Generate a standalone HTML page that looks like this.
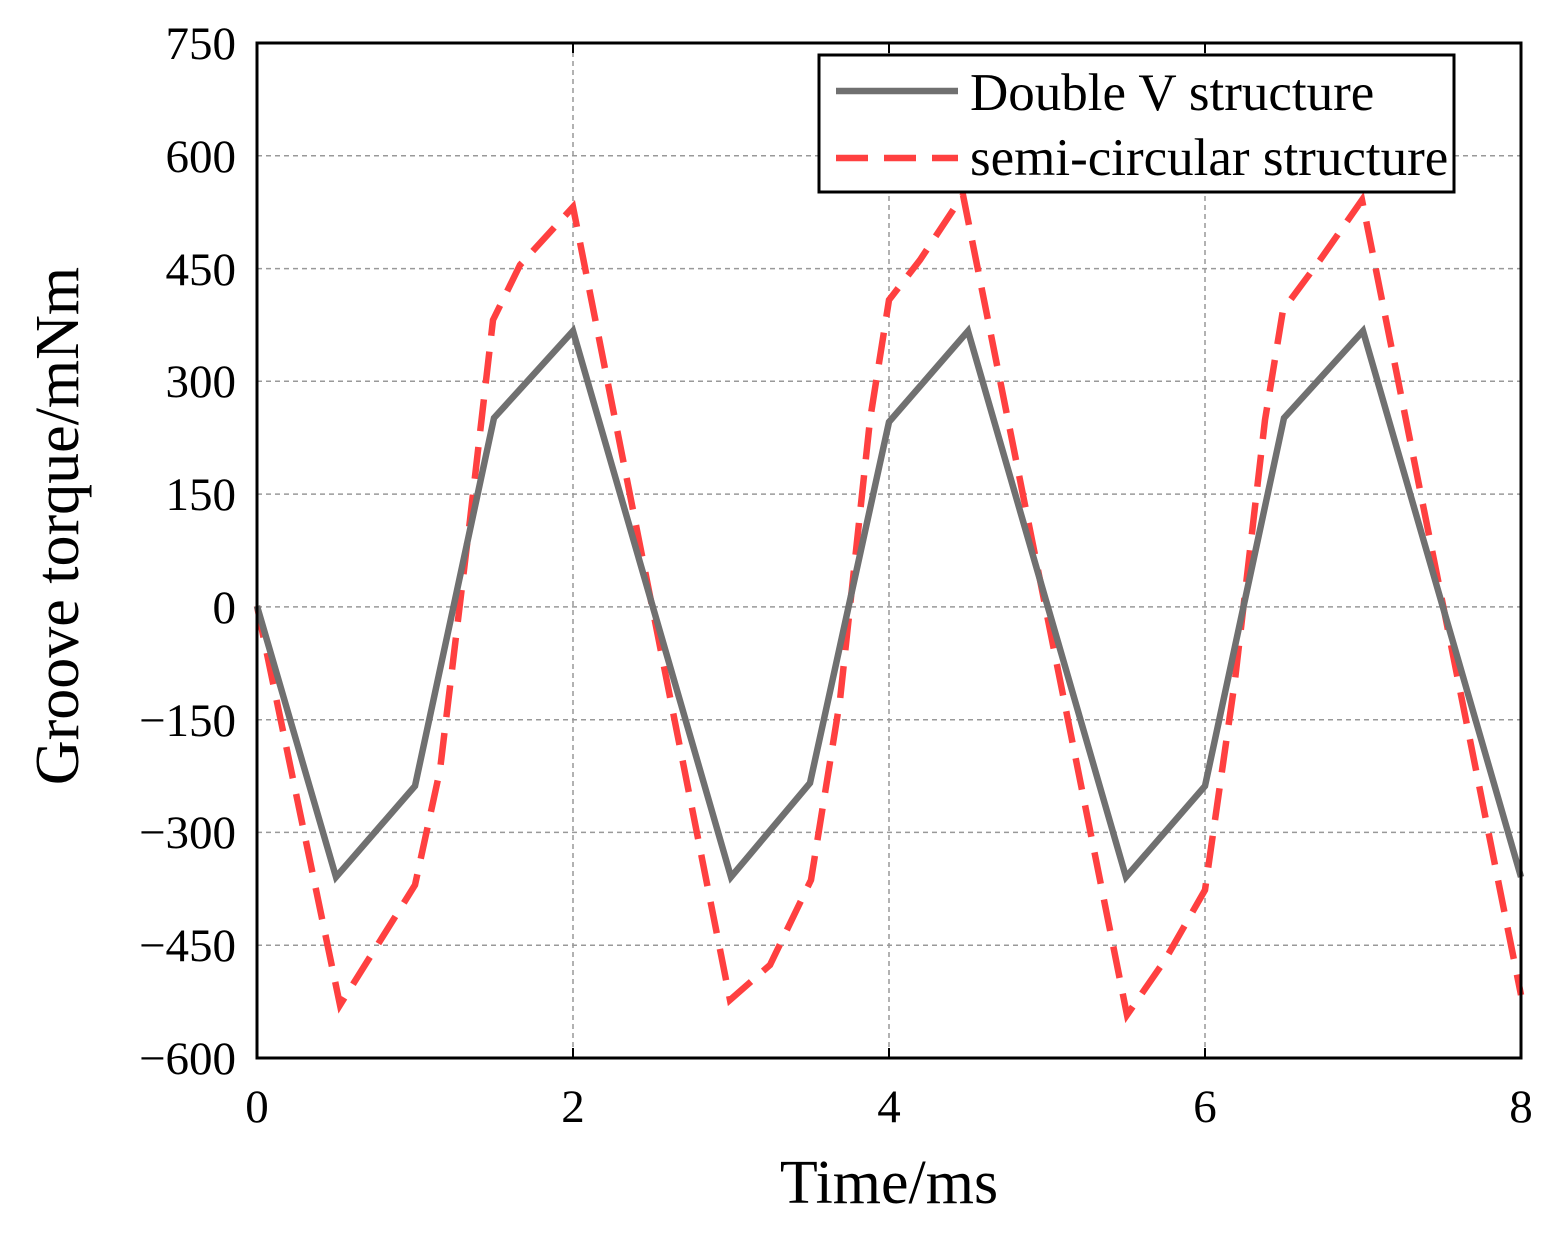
<!DOCTYPE html>
<html><head><meta charset="utf-8"><style>body{margin:0;background:#fff}</style></head><body>
<svg width="1553" height="1230" xmlns="http://www.w3.org/2000/svg" font-family="Liberation Serif, serif">
<rect width="1553" height="1230" fill="#fff"/>
<g stroke="#999" stroke-width="1.5" stroke-dasharray="5,4">
<line x1="573" y1="43" x2="573" y2="1058"/><line x1="889" y1="43" x2="889" y2="1058"/><line x1="1205" y1="43" x2="1205" y2="1058"/>
<line x1="257" y1="155.8" x2="1521" y2="155.8"/><line x1="257" y1="268.6" x2="1521" y2="268.6"/><line x1="257" y1="381.3" x2="1521" y2="381.3"/><line x1="257" y1="494.1" x2="1521" y2="494.1"/><line x1="257" y1="606.9" x2="1521" y2="606.9"/><line x1="257" y1="719.7" x2="1521" y2="719.7"/><line x1="257" y1="832.4" x2="1521" y2="832.4"/><line x1="257" y1="945.2" x2="1521" y2="945.2"/>
</g>
<polyline fill="none" stroke="#ff4040" stroke-width="6.5" stroke-dasharray="32,16" points="257,606 340,1005 415,885 440,770 470,520 493,320 520,265 573,207 730,1000 770,965 811,880 840,700 870,420 889,300 920,260 963,195 1127,1015 1165,960 1205,890 1235,680 1265,420 1283,310 1320,260 1362,200 1521,995"/>
<polyline fill="none" stroke="#707070" stroke-width="6.5" points="257,606 336,877 415,786 494,418 573,331 731,877 810,783 889,422 968,331 1126,877 1205,786 1284,418 1363,331 1521,877"/>
<rect x="257" y="43" width="1264" height="1015" fill="none" stroke="#000" stroke-width="3"/>
<g stroke="#000" stroke-width="2">
<line x1="573" y1="1058" x2="573" y2="1048"/><line x1="889" y1="1058" x2="889" y2="1048"/><line x1="1205" y1="1058" x2="1205" y2="1048"/>
<line x1="573" y1="43" x2="573" y2="53"/><line x1="889" y1="43" x2="889" y2="53"/><line x1="1205" y1="43" x2="1205" y2="53"/>
</g>
<g font-size="47" text-anchor="end">
<text x="236" y="59">750</text><text x="236" y="172">600</text><text x="236" y="285">450</text><text x="236" y="397">300</text><text x="236" y="510">150</text><text x="236" y="623">0</text><text x="236" y="736">−150</text><text x="236" y="848">−300</text><text x="236" y="961">−450</text><text x="236" y="1074">−600</text>
</g>
<g font-size="47" text-anchor="middle">
<text x="257" y="1122">0</text><text x="573" y="1122">2</text><text x="889" y="1122">4</text><text x="1205" y="1122">6</text><text x="1521" y="1122">8</text>
</g>
<text x="889" y="1203" font-size="62" text-anchor="middle">Time/ms</text>
<text transform="translate(78,526) rotate(-90)" font-size="62" text-anchor="middle">Groove torque/mNm</text>
<rect x="819" y="55" width="635" height="137" fill="#fff" stroke="#000" stroke-width="3"/>
<line x1="836" y1="91" x2="958" y2="91" stroke="#707070" stroke-width="6.5"/>
<line x1="836" y1="158" x2="958" y2="158" stroke="#ff4040" stroke-width="6.5" stroke-dasharray="32,16"/>
<text x="970" y="110" font-size="53">Double V structure</text>
<text x="970" y="175" font-size="53">semi-circular structure</text>
</svg>
</body></html>
